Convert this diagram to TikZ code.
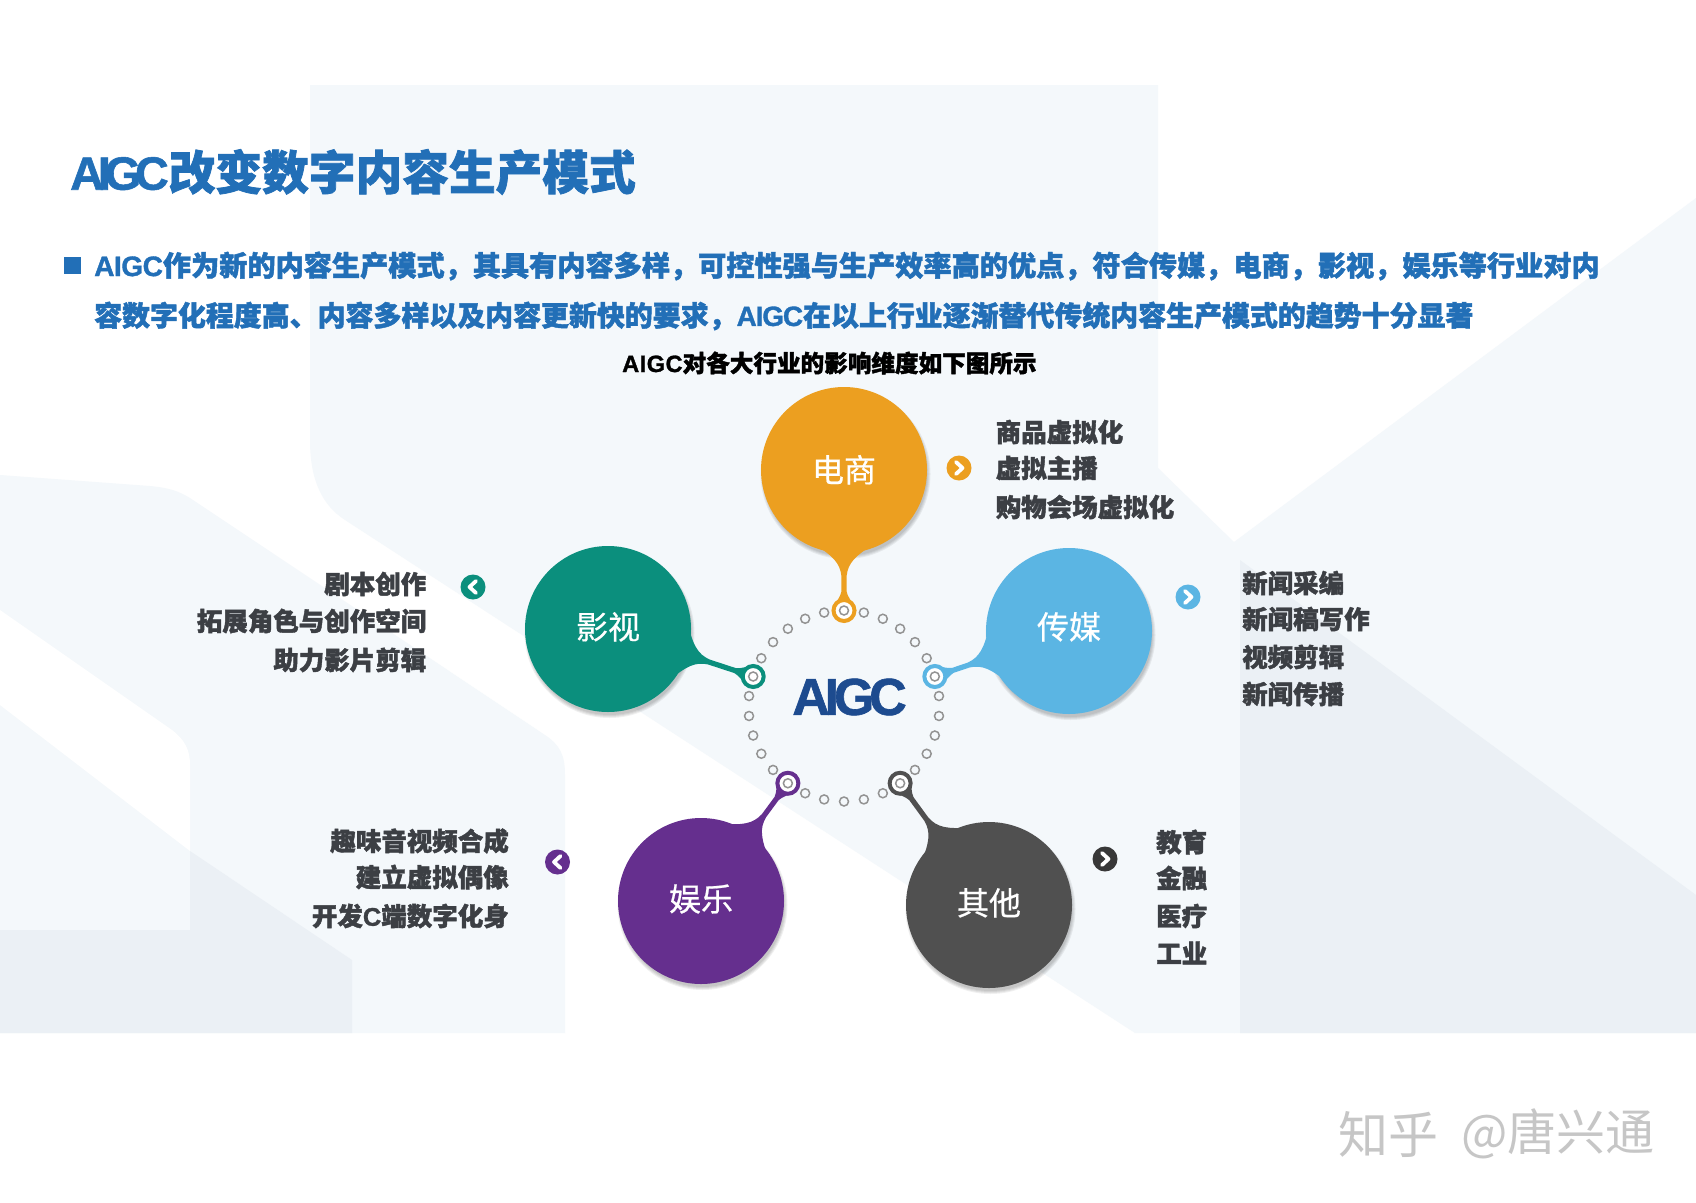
\documentclass[tikz,border=0pt]{standalone}
\usepackage{fontspec}
\usetikzlibrary{calc}
\setmainfont{Noto Sans CJK SC}
\newfontfamily\cjkr{Noto Sans CJK SC}
\newfontfamily\cjkm[FakeBold=0.6]{Noto Sans CJK SC}
\newfontfamily\cjkh[BoldFeatures={FakeBold=1.6}]{Noto Sans CJK SC}
\newfontfamily\latb[BoldFeatures={FakeBold=1.2}]{Liberation Sans}
\newcommand\aigc[1]{{\latb\bfseries\addfontfeature{LetterSpace=#1}AIGC}}
\newcommand\fs[1]{\fontsize{#1}{#1}\selectfont}
\newcommand\lift[2]{\smash{\raisebox{\dimexpr-12pt+#1pt\relax}{#2}}}
\definecolor{bgA}{HTML}{F4F8FB}
\definecolor{bgB}{HTML}{EBF0F5}
\definecolor{blueT}{HTML}{226FB7}
\definecolor{navy}{HTML}{1D4B8F}
\definecolor{cOrange}{HTML}{EC9F20}
\definecolor{cTeal}{HTML}{0B8F7D}
\definecolor{cSky}{HTML}{5BB5E3}
\definecolor{cPurple}{HTML}{652F8E}
\definecolor{cGrey}{HTML}{505050}
\definecolor{itemText}{HTML}{3C3F44}
\tikzset{
  bubble/.style={circle,minimum size=166pt,inner sep=0pt,fill=#1,text=white,font=\cjkm\fs{32}},
  ringnode/.style={circle,minimum size=21pt,inner sep=0pt,fill=white,draw=#1,line width=4pt},
  smalldot/.style={circle,minimum size=9pt,inner sep=0pt,draw=gray!85,line width=1.5pt},
  badge/.style={circle,minimum size=25pt,inner sep=0pt,fill=#1},
  chev/.style={draw=white,line width=3.8pt,line cap=round,line join=round},
  itemL/.style={anchor=west,text=itemText,font=\cjkh\bfseries\fs{25.5},inner sep=0pt},
  itemR/.style={anchor=east,text=itemText,font=\cjkh\bfseries\fs{25.5},inner sep=0pt},
  bodytext/.style={anchor=west,text=blueT,font=\cjkh\bfseries\fs{#1},inner sep=0pt},
}
\newcommand\softshadow[1]{%
  \foreach \rr in {82,83,84,85}{\fill[black,opacity=0.06] ($(#1)+(1.5,4)$) circle[radius=\rr];}}
\newcommand\neck[3]{%
  \fill[#3] ($(#1)!74pt!(#2)!30pt!90:(#2)$)
    .. controls ($(#1)!86pt!(#2)!11pt!90:(#2)$) and ($(#1)!93pt!(#2)!4pt!90:(#2)$)
    .. ($(#1)!106pt!(#2)!2.6pt!90:(#2)$)
    -- ($(#2)!19pt!(#1)!2.6pt!-90:(#1)$)
    .. controls ($(#2)!14pt!(#1)!3.5pt!-90:(#1)$) and ($(#2)!11pt!(#1)!7pt!-90:(#1)$)
    .. ($(#2)!0pt!(#1)!11pt!-90:(#1)$)
    -- ($(#2)!0pt!(#1)!11pt!90:(#1)$)
    .. controls ($(#2)!11pt!(#1)!7pt!90:(#1)$) and ($(#2)!14pt!(#1)!3.5pt!90:(#1)$)
    .. ($(#2)!19pt!(#1)!2.6pt!90:(#1)$)
    -- ($(#1)!106pt!(#2)!2.6pt!-90:(#2)$)
    .. controls ($(#1)!93pt!(#2)!4pt!-90:(#2)$) and ($(#1)!86pt!(#2)!11pt!-90:(#2)$)
    .. ($(#1)!74pt!(#2)!30pt!-90:(#2)$) -- cycle;}
\newcommand\rightchev[1]{\draw[chev] ($(#1)+(-3,-6)$) -- ($(#1)+(3.5,0)$) -- ($(#1)+(-3,6)$);}
\newcommand\leftchev[1]{\draw[chev] ($(#1)+(3,-6)$) -- ($(#1)+(-3.5,0)$) -- ($(#1)+(3,6)$);}
\begin{document}
\begin{tikzpicture}[x=1pt,y=-1pt]
\useasboundingbox (0,0) rectangle (1696,1202);
\fill[white] (0,0) rectangle (1696,1202);
% background
\fill[bgA] (1234,542) -- (1696,198) -- (1696,1033) -- (1234,1033) -- cycle;
\fill[bgB] (1240,560) -- (1696,895) -- (1696,1033) -- (1240,1033) -- cycle;
\fill[bgA] (310,85) -- (1158,85) -- (1158,468) -- (1234,542) -- (1234,1033) -- (1135,1033)
   -- (345,520) .. controls (322,505) and (310,480) .. (310,440) -- cycle;
\fill[bgA] (0,475) -- (150,486) .. controls (170,488) and (178,491) .. (190,498)
   -- (545,735) .. controls (560,745) and (565,755) .. (565,775) -- (565,1033) -- (0,1033) -- cycle;
\fill[white] (0,610) -- (172,730) .. controls (185,740) and (190,750) .. (190,765) -- (190,851) -- (0,705) -- cycle;
\fill[bgB] (190,851) -- (352,960) -- (352,1033) -- (0,1033) -- (0,930) -- (190,930) -- cycle;
% headings
\node[anchor=west,inner sep=0pt,text=blueT,font=\cjkh\bfseries\fs{46.7}] (title) at (70,172)
  {\aigc{-13}改变数字内容生产模式};
\node[inner sep=0pt,minimum size=17pt,fill=blueT] (bullet) at (72.5,265.5) {};
\node[bodytext=28.17] (lineA) at (94,266) {\aigc{-2}作为新的内容生产模式，其具有内容多样，可控性强与生产效率高的优点，符合传媒，电商，影视，娱乐等行业对内};
\node[bodytext=27.93] (lineB) at (94,316) {容数字化程度高、内容多样以及内容更新快的要求，\aigc{-4}在以上行业逐渐替代传统内容生产模式的趋势十分显著};
\node[anchor=west,inner sep=0pt,text=black,font=\cjkh\bfseries\fs{23.6}] (sub) at (622,363)
  {\aigc{2}对各大行业的影响维度如下图所示};
% hub
\coordinate (hub) at (844,706);
\foreach \a in {6,18,...,354}{\node[smalldot] at ($(hub)+(\a:95.5)$) {};}
\node[text=navy,inner sep=0pt,font=\latb\bfseries\fs{52}\addfontfeature{LetterSpace=-10}] (aigcmark) at (849.5,697) {AIGC};
% ring places
\coordinate (rA) at ($(hub)+(-90:95.5)$);
\coordinate (rB) at ($(hub)+(-18:95.5)$);
\coordinate (rC) at ($(hub)+(54:95.5)$);
\coordinate (rD) at ($(hub)+(126:95.5)$);
\coordinate (rE) at ($(hub)+(198:95.5)$);
% bubble places
\coordinate (pA) at (844,470);
\coordinate (pB) at (1069,631);
\coordinate (pC) at (989,905);
\coordinate (pD) at (701,901);
\coordinate (pE) at (608,629);
\softshadow{pA}\softshadow{pB}\softshadow{pC}\softshadow{pD}\softshadow{pE}
\neck{pA}{rA}{cOrange}
\neck{pB}{rB}{cSky}
\neck{pC}{rC}{cGrey}
\neck{pD}{rD}{cPurple}
\neck{pE}{rE}{cTeal}
\node[bubble=cOrange] (ecom) at (pA) {\lift{0}{电商}};
\node[bubble=cSky] (media) at (pB) {\lift{4}{传媒}};
\node[bubble=cGrey] (other) at (pC) {\lift{2}{其他}};
\node[bubble=cPurple] (ent) at (pD) {\lift{2}{娱乐}};
\node[bubble=cTeal] (film) at (pE) {\lift{2}{影视}};
\node[ringnode=cOrange] (ringA) at (rA) {};
\node[ringnode=cSky] (ringB) at (rB) {};
\node[ringnode=cGrey] (ringC) at (rC) {};
\node[ringnode=cPurple] (ringD) at (rD) {};
\node[ringnode=cTeal] (ringE) at (rE) {};
\foreach \r in {rA,rB,rC,rD,rE}{\node[smalldot] at (\r) {};}
% badges
\node[badge=cOrange] (bA) at (959,468) {}; \rightchev{bA}
\node[badge=cSky] (bB) at (1188,597) {}; \rightchev{bB}
\node[badge=cGrey!70!black] (bC) at (1105,859) {}; \rightchev{bC}
\node[badge=cPurple] (bD) at (557.5,862) {}; \leftchev{bD}
\node[badge=cTeal] (bE) at (473,587) {}; \leftchev{bE}
% item lists
\node[itemL] (a1) at (995.5,432) {商品虚拟化};
\node[itemL] (a2) at (995.5,468) {虚拟主播};
\node[itemL] (a3) at (995.5,507) {购物会场虚拟化};
\node[itemL] (b1) at (1242,583) {新闻采编};
\node[itemL] (b2) at (1242,619) {新闻稿写作};
\node[itemL] (b3) at (1242,657) {视频剪辑};
\node[itemL] (b4) at (1242,694) {新闻传播};
\node[itemL] (c1) at (1156,842) {教育};
\node[itemL] (c2) at (1156,878) {金融};
\node[itemL] (c3) at (1156,916) {医疗};
\node[itemL] (c4) at (1156,953) {工业};
\node[itemR] (d1) at (509,841) {趣味音视频合成};
\node[itemR] (d2) at (509,877) {建立虚拟偶像};
\node[itemR] (d3) at (509,916) {开发{\latb\bfseries C}端数字化身};
\node[itemR] (e1) at (426.5,584) {剧本创作};
\node[itemR] (e2) at (426.5,621) {拓展角色与创作空间};
\node[itemR] (e3) at (426.5,660) {助力影片剪辑};
% watermark
\node[anchor=west,inner sep=0pt,text=gray!45,font=\cjkr\fs{50}] (mark) at (1338,1134) {知乎};
\node[anchor=west,inner sep=0pt,text=gray!45,font=\cjkr\fs{49}] (handle) at (1461,1134) {@唐兴通};
\end{tikzpicture}
\end{document}
